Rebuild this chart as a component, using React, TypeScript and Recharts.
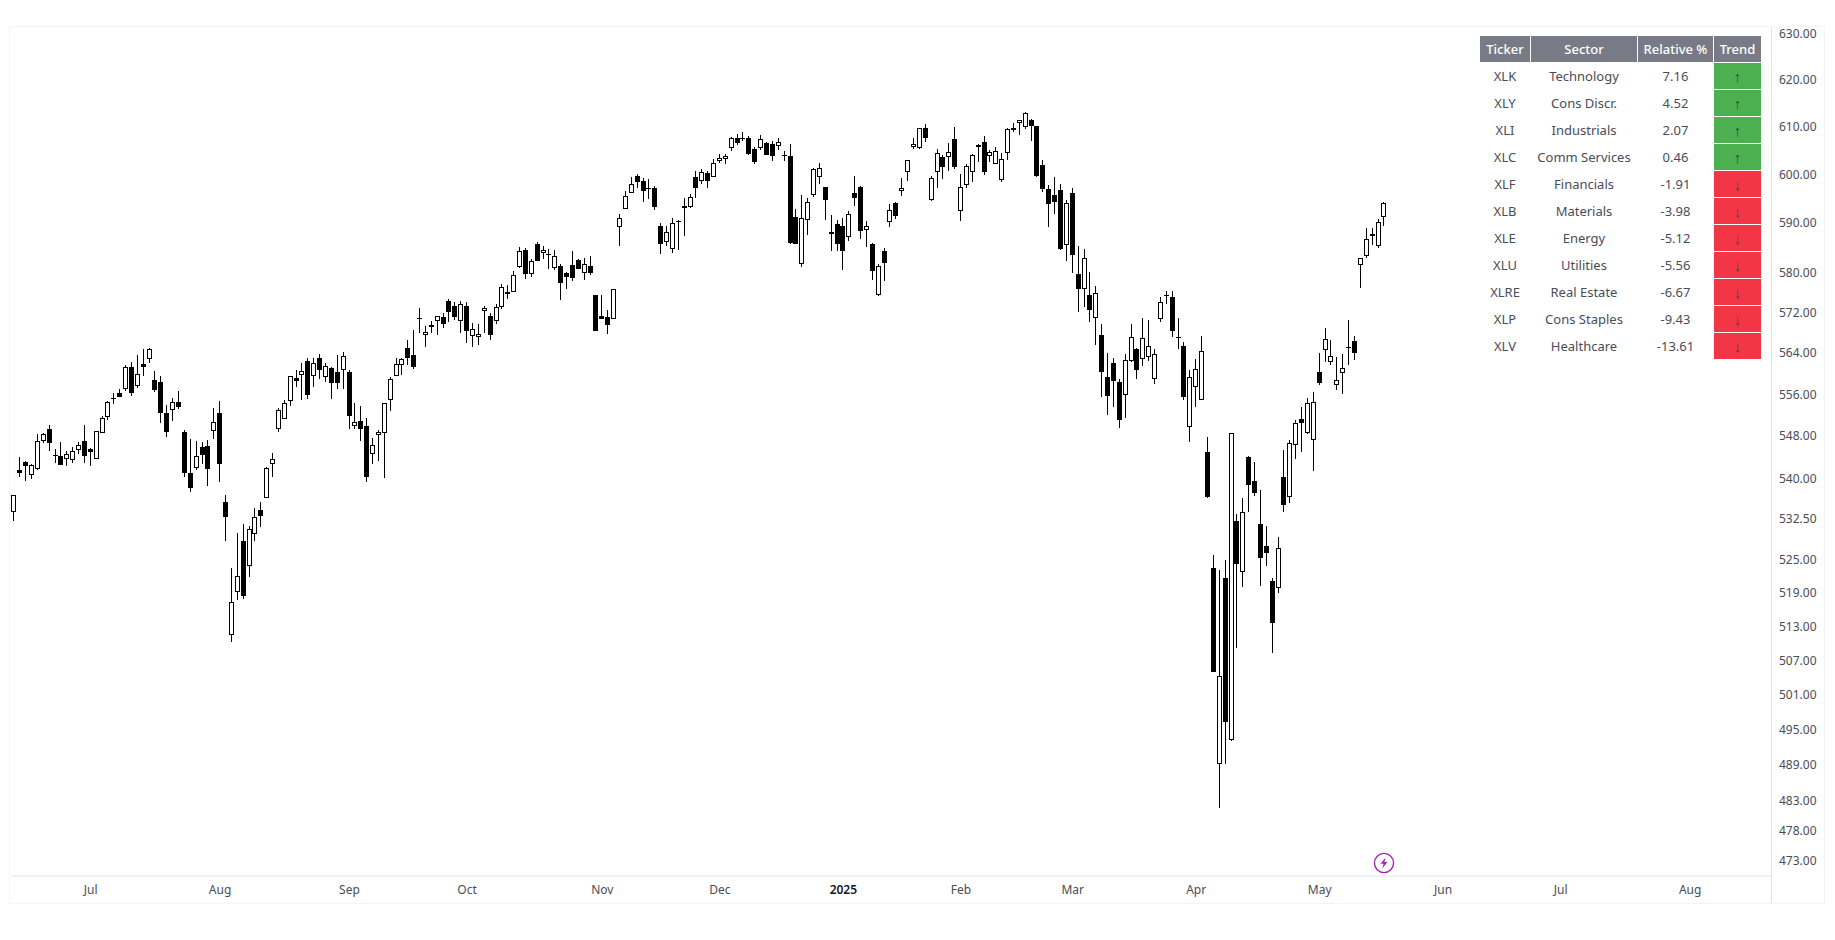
import { BarChart, Bar, XAxis, YAxis } from 'recharts'

const opens = [
  534.0,541.8,543.2,541.0,542.0,547.1,549.5,544.6,544.4,543.9,
  543.7,545.4,547.2,545.7,543.8,548.7,551.8,555.5,556.5,557.2,
  561.5,557.7,562.1,563.0,558.9,558.6,552.6,553.1,554.7,549.0,
  541.3,542.3,546.1,546.3,549.1,552.6,535.8,511.6,519.3,528.7,
  524.0,529.9,534.4,536.5,542.8,549.5,551.4,554.8,559.3,559.9,
  562.7,559.7,563.2,559.5,561.3,560.5,560.9,560.5,550.2,551.1,
  550.1,544.7,548.3,548.7,555.0,559.7,561.8,565.2,563.8,571.1,
  567.8,569.7,570.5,571.3,574.5,573.5,570.4,573.5,567.6,567.4,
  572.5,571.5,570.4,573.2,575.8,576.2,581.2,584.7,579.8,585.9,
  584.0,583.9,581.0,581.5,580.0,581.7,582.7,580.0,581.5,575.7,
  571.5,571.3,570.9,589.3,593.1,596.3,599.9,598.9,597.4,597.3,
  589.5,586.2,584.8,590.7,593.7,593.5,599.7,598.8,600.5,599.6,
  602.9,603.3,605.6,607.8,607.8,607.9,605.5,605.7,606.8,606.6,
  606.0,604.3,604.1,591.4,581.8,590.9,595.9,599.6,597.6,587.9,
  590.0,589.6,587.4,596.3,597.6,588.7,585.9,575.7,584.5,590.3,
  594.3,596.8,600.6,605.8,605.7,610.0,594.8,600.6,603.8,603.9,
  607.6,592.7,597.9,600.6,606.4,607.0,603.9,602.5,599.1,604.6,
  610.0,610.9,610.1,611.7,610.4,602.2,597.2,595.9,597.0,585.6,
  596.3,579.9,576.8,575.7,571.0,567.8,559.5,562.3,558.6,556.1,
  562.6,565.0,562.9,563.3,559.2,570.8,575.7,575.3,567.4,565.6,
  549.8,557.5,555.0,545.1,523.7,489.2,521.9,493.4,532.3,523.0,
  544.2,539.7,531.8,527.7,521.4,520.0,540.5,536.6,546.5,551.5,
  548.8,547.5,560.5,564.7,562.5,557.9,560.2,565.4,566.6,581.6,
  583.4,588.0,585.6,591.3,
]

const closes = [
  537.1,541.2,542.4,542.8,547.2,548.5,546.9,544.4,542.7,544.8,
  545.4,546.4,544.3,545.2,549.1,551.6,554.7,555.3,555.7,561.4,
  556.5,560.1,561.6,565.0,556.9,552.7,549.0,554.7,553.8,541.3,
  538.5,544.5,544.6,542.0,550.8,543.0,533.0,517.5,522.2,518.7,
  530.8,533.0,533.3,542.1,543.8,553.1,554.5,559.7,558.7,560.7,
  556.1,562.2,560.8,561.6,558.3,558.3,563.7,552.1,550.9,549.6,
  540.4,546.4,548.9,554.5,559.1,562.0,563.0,563.2,561.4,570.9,
  568.3,569.4,571.5,570.0,572.4,571.4,573.8,568.6,568.9,567.9,
  573.1,567.8,573.2,577.2,576.2,579.6,584.4,579.8,582.4,582.4,
  584.6,583.6,583.4,578.0,579.2,579.0,580.8,581.8,580.0,568.6,
  571.0,569.8,576.8,591.2,595.7,598.2,598.7,596.9,597.3,593.3,
  585.8,588.3,590.1,590.6,593.3,595.5,597.4,600.7,598.8,602.5,
  603.6,604.0,607.8,606.7,607.5,604.6,602.8,607.6,604.3,604.1,
  606.9,604.2,586.1,585.9,591.2,594.6,601.3,601.5,594.9,588.3,
  585.9,584.5,592.0,595.3,588.6,589.5,580.5,581.5,582.1,592.8,
  591.6,597.5,603.2,606.5,609.9,607.8,599.4,604.6,601.8,605.0,
  601.8,597.7,601.9,604.2,605.9,600.8,604.8,605.2,603.4,609.7,
  609.5,611.6,613.1,610.4,599.9,597.2,594.1,594.5,584.9,594.2,
  583.7,576.9,583.0,572.7,576.0,560.5,555.9,558.8,551.3,562.8,
  567.3,560.9,567.1,565.5,564.0,574.2,575.5,568.6,567.2,555.7,
  559.5,561.0,564.5,536.6,505.2,504.4,496.5,548.7,524.5,533.9,
  539.0,537.5,525.5,526.5,513.8,527.3,535.3,546.8,550.6,550.7,
  554.5,554.7,558.4,566.9,563.6,558.9,561.2,565.2,564.2,583.0,
  586.9,587.6,590.5,594.2,
]

const highs = [
  537.1,544.3,543.5,543.0,548.6,548.8,550.3,545.7,547.0,545.3,
  546.1,547.0,550.3,546.0,549.1,552.0,554.9,556.4,557.2,561.9,
  562.5,563.8,565.0,565.2,560.7,559.8,554.1,555.4,556.8,549.3,
  547.6,547.2,547.0,547.4,553.6,554.9,537.1,523.7,530.0,531.8,
  531.4,534.7,535.8,542.3,544.9,553.5,555.0,559.7,560.9,562.3,
  563.2,563.2,564.0,562.3,561.4,563.8,564.3,560.9,554.5,554.0,
  551.6,547.9,549.3,554.5,559.6,563.2,563.2,566.8,568.8,573.1,
  569.6,570.5,571.5,572.1,574.9,574.3,574.5,574.3,570.1,569.9,
  573.5,572.1,573.9,577.9,577.7,580.5,585.3,585.1,582.9,586.3,
  585.5,584.9,584.7,581.9,580.3,584.5,582.8,583.1,583.5,575.7,
  575.7,572.7,576.8,592.0,596.8,599.7,600.3,599.5,599.3,597.9,
  590.1,589.5,591.2,590.9,595.3,596.1,600.9,601.3,600.9,603.4,
  604.5,604.4,608.1,608.7,609.2,608.2,606.0,608.5,607.1,607.2,
  607.8,605.2,606.6,593.1,595.9,595.3,601.6,602.6,597.7,591.8,
  590.8,591.2,592.6,599.9,597.8,590.6,586.1,581.9,585.1,594.1,
  594.5,599.4,603.2,607.8,610.0,610.8,599.9,605.5,604.3,606.8,
  610.1,600.3,602.3,604.5,606.5,608.3,605.4,605.9,604.7,610.0,
  611.0,611.7,613.3,611.9,610.4,603.2,598.0,599.7,598.3,594.9,
  597.3,585.5,584.9,580.3,577.5,569.8,564.2,563.2,559.2,564.0,
  569.9,565.1,571.1,570.7,565.0,575.2,576.5,576.5,571.1,566.4,
  560.9,563.1,567.6,548.0,526.1,523.4,525.2,548.7,533.6,536.6,
  544.4,543.3,538.1,531.3,521.9,529.4,545.5,547.5,551.3,553.8,
  555.5,556.7,564.2,569.1,566.8,563.4,564.0,570.6,567.6,583.0,
  589.2,589.2,591.0,594.5,
]

const lows = [
  532.2,540.5,539.8,540.0,541.8,546.8,545.4,543.1,542.7,542.5,
  543.1,544.8,543.1,542.5,543.8,548.7,551.3,554.4,555.7,556.8,
  555.9,557.3,559.8,562.3,556.6,550.6,548.1,551.1,553.4,540.5,
  537.6,541.7,543.0,538.7,547.7,539.6,528.7,510.5,517.9,518.1,
  522.0,528.7,531.1,536.5,540.4,549.0,551.4,554.0,557.5,555.0,
  555.2,557.5,559.2,558.5,555.2,557.2,557.2,549.6,549.6,547.3,
  539.6,542.9,543.5,540.2,552.9,559.7,560.0,561.9,561.0,568.2,
  565.4,568.2,567.8,569.2,570.2,570.6,568.2,566.2,565.4,565.7,
  568.2,566.8,569.8,572.8,574.8,576.2,581.0,578.8,579.2,582.4,
  582.8,580.8,580.6,574.6,576.8,578.4,580.8,578.6,579.6,568.6,
  570.8,568.0,570.9,585.5,593.1,596.3,597.3,594.5,595.1,592.9,
  583.9,585.5,584.1,584.7,587.6,593.3,595.4,598.3,597.4,599.6,
  602.5,602.4,605.1,606.4,607.2,604.3,602.3,605.4,604.3,603.0,
  605.3,603.0,585.9,585.9,581.2,587.8,595.6,598.2,590.8,584.5,
  584.5,580.7,586.5,593.7,586.9,585.3,578.7,575.5,578.5,589.4,
  591.0,595.7,598.9,605.6,605.5,607.0,594.8,597.4,599.3,600.9,
  601.3,590.6,597.5,598.6,602.8,600.1,602.8,602.5,598.6,603.2,
  609.1,608.5,609.8,607.2,599.7,596.6,589.4,592.0,584.7,582.5,
  580.1,572.3,573.3,570.3,565.8,555.7,552.2,553.8,549.8,551.7,
  562.5,559.2,561.7,562.7,558.2,570.3,573.9,567.4,565.0,555.1,
  547.0,553.8,555.0,536.6,505.2,481.9,489.3,493.2,509.4,520.2,
  533.9,536.9,520.4,524.1,508.5,519.2,533.9,535.6,543.8,545.1,
  548.6,541.6,558.0,562.5,561.9,557.0,556.3,561.9,562.9,577.1,
  583.0,585.7,585.1,589.5,
]

// the axis runs on past the last candle, like the empty right side of the chart
const TOTAL_SLOTS = 299

const monthSlots = [13, 35, 57, 77, 100, 120, 141, 161, 180, 201, 222, 243, 263, 285]
const monthNames = ['Jul', 'Aug', 'Sep', 'Oct', 'Nov', 'Dec', '2025', 'Feb', 'Mar', 'Apr', 'May', 'Jun', 'Jul', 'Aug']

const priceTicks = [
  473, 478, 483, 489, 495, 501, 507, 513, 519, 525, 532.5, 540, 548, 556, 564, 572, 580, 590, 600, 610, 620, 630,
]

const tickers = ['XLK', 'XLY', 'XLI', 'XLC', 'XLF', 'XLB', 'XLE', 'XLU', 'XLRE', 'XLP', 'XLV']
const sectors = [
  'Technology',
  'Cons Discr.',
  'Industrials',
  'Comm Services',
  'Financials',
  'Materials',
  'Energy',
  'Utilities',
  'Real Estate',
  'Cons Staples',
  'Healthcare',
]
const relative = [7.16, 4.52, 2.07, 0.46, -1.91, -3.98, -5.12, -5.56, -6.67, -9.43, -13.61]
const tableHead = ['Ticker', 'Sector', 'Relative %', 'Trend']

const FONT = '"Noto Sans", sans-serif'
const TEXT = '#4a4c57'
const LINE = '#e0e3eb'
const FRAME = '#f3f4f6'

const rows = Array.from({ length: TOTAL_SLOTS }, (_, i) => ({
  slot: i,
  wick: i < opens.length ? [lows[i], highs[i]] : null,
  body: i < opens.length ? [Math.min(opens[i], closes[i]), Math.max(opens[i], closes[i])] : null,
  up: closes[i] > opens[i],
}))

function Wick(props: any) {
  if (!props.payload.wick) return <g />
  const x = Math.floor(props.x + props.width / 2)
  return <rect x={x} y={props.y} width={1} height={props.height} fill="#000" shapeRendering="crispEdges" />
}

function Body(props: any) {
  if (!props.payload.body) return <g />
  const x = Math.round(props.x)
  const top = Math.round(props.y)
  const h = Math.max(1, Math.round(props.height))
  if (props.payload.up) {
    return (
      <rect
        x={x + 0.5}
        y={top + 0.5}
        width={4}
        height={Math.max(1, h - 1)}
        fill="#fff"
        stroke="#000"
        strokeWidth={1}
        shapeRendering="crispEdges"
      />
    )
  }
  return <rect x={x} y={top} width={5} height={h} fill="#000" shapeRendering="crispEdges" />
}

function MonthTick(props: any) {
  const i = monthSlots.indexOf(props.payload.value)
  const label = monthNames[i]
  const isYear = label === '2025'
  return (
    <text
      x={props.x}
      y={props.y + 10}
      textAnchor="middle"
      fontFamily={FONT}
      fontSize={12}
      fontWeight={isYear ? 600 : 400}
      fill={isYear ? '#131722' : TEXT}
    >
      {label}
    </text>
  )
}

function PriceTick(props: any) {
  return (
    <text x={props.x} y={props.y + 3.4} textAnchor="start" fontFamily={FONT} fontSize={12} fill={TEXT}>
      {props.payload.value.toFixed(2)}
    </text>
  )
}

function SectorTable() {
  const cell = { display: 'flex', alignItems: 'center', justifyContent: 'center' }
  return (
    <div
      style={{
        position: 'absolute',
        left: 1480,
        top: 36,
        display: 'grid',
        gridTemplateColumns: '50px 106px 75px 47px',
        gridAutoRows: '26px',
        gap: 1,
        fontFamily: FONT,
        fontSize: 13,
        color: TEXT,
      }}
    >
      {tableHead.map((h) => (
        <div key={h} style={{ ...cell, background: '#787b86', color: '#fff', fontWeight: 500 }}>
          {h}
        </div>
      ))}
      {tickers.map((t, i) => (
        <div key={t} style={{ display: 'contents' }}>
          <div style={cell}>{t}</div>
          <div style={cell}>{sectors[i]}</div>
          <div style={cell}>{relative[i].toFixed(2)}</div>
          <div
            style={{
              ...cell,
              background: relative[i] > 0 ? '#4caf50' : '#f23645',
              color: '#3f4450',
              fontFamily: '"Liberation Sans", sans-serif',
              fontSize: 15,
            }}
          >
            {relative[i] > 0 ? '↑' : '↓'}
          </div>
        </div>
      ))}
    </div>
  )
}

function BoltIcon() {
  return (
    <svg width={24} height={24} style={{ position: 'absolute', left: 1372, top: 851 }}>
      <circle cx={12} cy={12} r={9.6} fill="#fff" stroke="#9c27b0" strokeWidth={1.4} />
      <path d="M13.6 6.6 L8.6 12.8 L11.6 12.8 L10.4 17.4 L15.4 11 L12.4 11 Z" fill="#9c27b0" />
    </svg>
  )
}

export default function App() {
  return (
    <div style={{ position: 'absolute', left: 0, top: 0, width: 1835, height: 940, background: '#fff', overflow: 'hidden' }}>
      <div
        style={{
          position: 'absolute',
          left: 9,
          top: 26,
          width: 1816,
          height: 878,
          border: `1.5px solid ${FRAME}`,
          boxSizing: 'border-box',
        }}
      />
      <div style={{ position: 'absolute', left: 1771, top: 27, width: 1, height: 876, background: LINE }} />
      <BarChart
        width={1835}
        height={940}
        data={rows}
        margin={{ top: 27, right: 11, bottom: 37, left: 11.36 }}
        barCategoryGap={0}
      >
        <XAxis
          xAxisId="wick"
          dataKey="slot"
          type="category"
          ticks={monthSlots}
          interval={0}
          tick={MonthTick}
          tickLine={false}
          axisLine={{ stroke: LINE }}
          height={27}
          padding={{ left: 0, right: 1.5 }}
        />
        <XAxis xAxisId="body" dataKey="slot" type="category" hide height={0} padding={{ left: 0, right: 1.5 }} />
        <YAxis
          orientation="right"
          scale="log"
          domain={[470.67, 631.68]}
          allowDataOverflow
          ticks={priceTicks}
          interval={0}
          width={53}
          tickLine={false}
          tickSize={0}
          tickMargin={8}
          axisLine={false}
          tick={PriceTick}
        />
        <Bar xAxisId="wick" dataKey="wick" barSize={1} shape={Wick} isAnimationActive={false} />
        <Bar xAxisId="body" dataKey="body" barSize={5} shape={Body} isAnimationActive={false} />
      </BarChart>
      <SectorTable />
      <BoltIcon />
    </div>
  )
}
